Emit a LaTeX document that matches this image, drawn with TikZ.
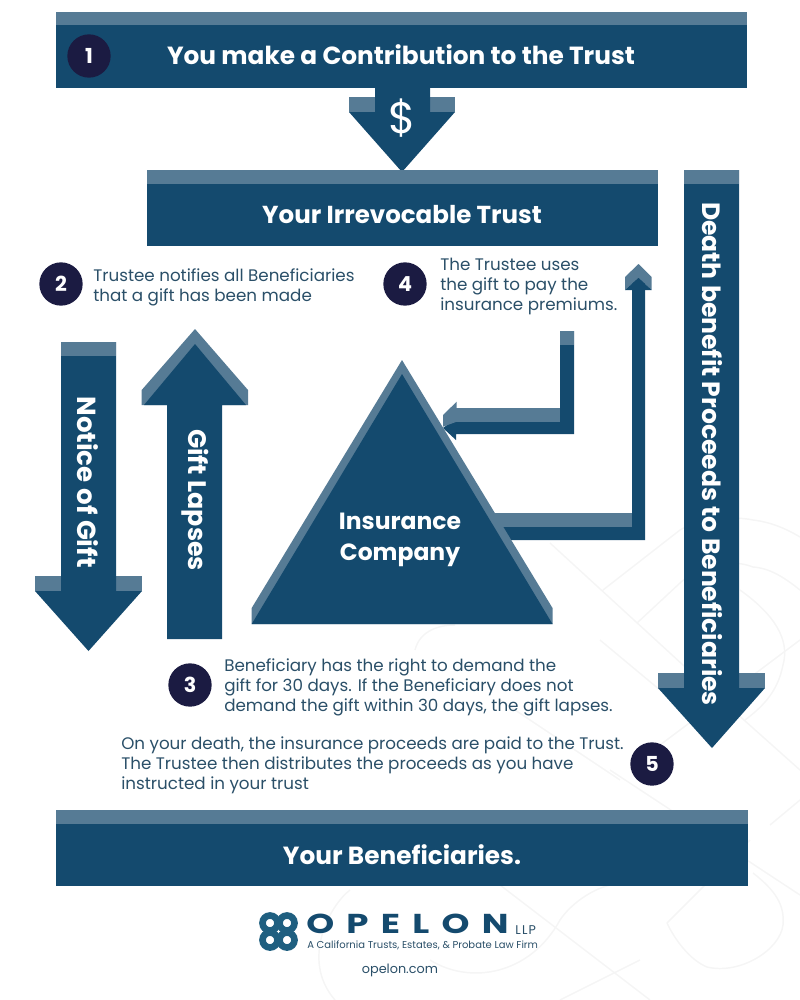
\documentclass[tikz,border=0pt]{standalone}
\usepackage{fontspec}
\setmainfont{Poppins}
\definecolor{navy}{HTML}{144A6E}
\definecolor{steel}{HTML}{567B95}
\definecolor{ink}{HTML}{1B1B42}
\definecolor{bodytext}{HTML}{2A4F68}
\definecolor{wm}{HTML}{F5F5F5}
\definecolor{knot}{HTML}{1F5F80}
\newcommand{\fs}[1]{\fontsize{#1}{#1}\selectfont}
\tikzset{x=0.75pt,y=-0.75pt,
  dk/.style={fill=navy,draw=none},
  lt/.style={fill=steel,draw=none},
  bgline/.style={draw=wm,line width=1.1pt,line join=round},
  title/.style={text=white,font=\bfseries\fs{18.6},inner sep=0pt},
  num/.style={circle,fill=ink,text=white,font=\bfseries\fs{15.5},minimum size=32.5pt,inner sep=0pt},
  para/.style={text=bodytext,font=\fontsize{12.55}{15}\selectfont,align=left,anchor=west,inner sep=0pt},
  ring/.style={draw=knot,line width=5pt}}
\begin{document}
\begin{tikzpicture}
\useasboundingbox (0,0) rectangle (800,1000);
% watermark
\draw[bgline] (550,543) -- (707,687) (603,590) -- (680,530) (637,623) -- (680,583);
\draw[bgline] (753,520) .. controls (770,522) and (785,528) .. (800,537);
\draw[bgline] (753,567) .. controls (770,568) and (785,578) .. (800,590);
\draw[bgline] (680,530) .. controls (700,518) and (735,516) .. (753,520);
\draw[bgline] (680,583) .. controls (705,560) and (735,560) .. (753,567);
\draw[bgline] (740,590) .. controls (775,615) and (790,640) .. (783,665) .. controls (778,690) and (765,705) .. (745,720);
\draw[bgline] (707,687) -- (800,770) (660,745) -- (800,640);
\draw[bgline] (500,700) -- (620,780) (610,770) -- (800,895);
\draw[bgline] (753,873) .. controls (775,890) and (785,905) .. (783,925) .. controls (780,950) and (740,975) .. (707,967) .. controls (690,960) and (675,940) .. (667,923);
\draw[bgline] (667,923) -- (750,840) (770,825) -- (800,800);
\draw[bgline] (500,885) -- (650,1000) (560,1000) -- (640,960);
\draw[bgline] (335,1000) .. controls (300,960) and (330,905) .. (350,890);
\draw[bgline] (430,960) .. controls (470,985) and (530,975) .. (560,920) .. controls (570,905) and (590,890) .. (610,885);
\draw[bgline] (415,650) .. controls (420,630) and (440,625) .. (455,625) (600,640) -- (660,690);
% bar 1
\path[dk] (56,12) rectangle (747,88);
\path[lt] (56,12) rectangle (747,25);
\node[title] (t1) at (401,55) {You make a Contribution to the Trust};
\node[num] (n1) at (89,56) {1};
% dollar arrow
\path[lt] (349,97) rectangle (455,112);
\path[dk] (375,88) -- (430,88) -- (430,112) -- (455,112) -- (402,172) -- (349,112) -- (375,112) -- cycle;
\node[text=white,font=\fs{33}] (dollar) at (402,118) {\$};
% bar 2
\path[dk] (147,170) rectangle (658,246);
\path[lt] (147,170) rectangle (658,184);
\node[title,font=\bfseries\fs{18.4}] (t2) at (402,215) {Your Irrevocable Trust};
% right arrow
\path[lt] (658,673) rectangle (765,688);
\path[dk] (684,170) -- (739,170) -- (739,688) -- (765,688) -- (712,748) -- (658,688) -- (684,688) -- cycle;
\path[lt] (684,170) rectangle (739,184);
\node[title,rotate=-90,font=\bfseries\fs{18.8}] (t5) at (712,454) {Death benefit Proceeds to Beneficiaries};
% notice of gift
\path[lt] (35,576) rectangle (142,591);
\path[dk] (61,342) -- (116,342) -- (116,591) -- (142,591) -- (88.5,651) -- (35,591) -- (61,591) -- cycle;
\path[lt] (61,342) rectangle (116,356);
\node[title,rotate=-90,font=\bfseries\fs{19.6}] (t3) at (88,482) {Notice of Gift};
% gift lapses
\path[lt] (195,329) -- (248,390) -- (248,405) -- (141.7,405) -- (141.7,390) -- cycle;
\path[dk] (195,344) -- (246,405) -- (222,405) -- (222,639) -- (167,639) -- (167,405) -- (144,405) -- cycle;
\node[title,rotate=-90,font=\bfseries\fs{19}] (t4) at (195,500) {Gift Lapses};
% elbow arrows
\path[dk] (560,331) -- (574,331) -- (574,434) -- (456,434) -- (456,440) -- (443,428) -- (456,418) -- (456,422) -- (560,422) -- cycle;
\path[lt] (560,331) rectangle (574,345);
\path[lt] (456,408) rectangle (560,422);
\path[lt] (456.7,401.7) -- (456.7,421.7) -- (443,426.7) -- (443,415) -- cycle;
\path[dk] (480,527) -- (632,527) -- (632,278) -- (645,278) -- (645,540) -- (480,540) -- cycle;
\path[lt] (480,513) rectangle (632,527);
\path[lt] (638.5,264) -- (651.7,277) -- (651.7,290) -- (638.5,278) -- (625,290) -- (625,277) -- cycle;
\path[dk] (638.5,278) -- (651.7,290) -- (625,290) -- cycle;
% triangle
\path[lt] (402,360) -- (552.5,608) -- (552.5,624) -- (251.7,624) -- (251.7,608) -- cycle;
\path[dk] (402,374) -- (552.5,624) -- (251.7,624) -- cycle;
\node[text=white,font=\bfseries\fontsize{17.6}{23}\selectfont,align=center,inner sep=0pt] (ins) at (400,540) {Insurance\\Company};
% bar 3
\path[dk] (56,810) rectangle (748,886);
\path[lt] (56,810) rectangle (748,824);
\node[title] (t6) at (402,855) {Your Beneficiaries.};
% numbers and texts
\node[num] (n2) at (61,284) {2};
\node[num] (n4) at (405,284) {4};
\node[num] (n3) at (190,685) {3};
\node[num] (n5) at (652,764) {5};
\node[para] (p2) at (93,287) {Trustee notifies all Beneficiaries\\that a gift has been made};
\node[para] (p4) at (440,286) {The Trustee uses\\the gift to pay the\\insurance premiums.};
\node[para] (p3) at (224,687) {Beneficiary has the right to demand the\\gift for 30 days. If the Beneficiary does not\\demand the gift within 30 days, the gift lapses.};
\node[para] (p5) at (121,765) {On your death, the insurance proceeds are paid to the Trust.\\The Trustee then distributes the proceeds as you have\\instructed in your trust};
% logo
\foreach \cx/\cy/\nm in {270/923/a,287/923/b,270/940/c,287/940/d}
  \draw[ring] (\cx,\cy) circle (7.5);
\node[text=navy,font=\bfseries\fs{20.5},inner sep=0pt,anchor=base west] (logo) at (306,933) {\addfontfeatures{FakeStretch=1.3,LetterSpace=45}OPELON};
\node[text=bodytext,font=\fs{9.5},inner sep=0pt,anchor=base west] (llp) at (515,934) {\addfontfeatures{LetterSpace=10}LLP};
\node[text=bodytext,font=\fs{7.5},inner sep=0pt,anchor=base west] (tag) at (307,948) {A California Trusts, Estates, \& Probate Law Firm};
\node[text=bodytext,font=\fs{9.6},inner sep=0pt] (web) at (400,970) {opelon.com};
\end{tikzpicture}
\end{document}
